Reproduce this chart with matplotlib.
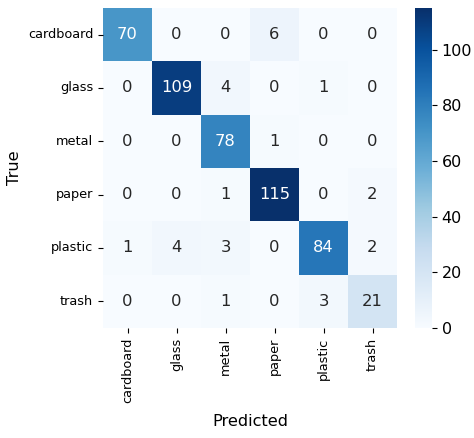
import numpy as np
import matplotlib.pyplot as plt
import seaborn as sns

classes = ["cardboard", "glass", "metal", "paper", "plastic", "trash"]
cm = np.array([
    [70, 0, 0, 6, 0, 0],
    [0, 109, 4, 0, 1, 0],
    [0, 0, 78, 1, 0, 0],
    [0, 0, 1, 115, 0, 2],
    [1, 4, 3, 0, 84, 2],
    [0, 0, 1, 0, 3, 21],
])

fig = plt.figure(figsize=(4.74, 4.38), dpi=100)
ax = fig.add_axes([103 / 474, 1 - 328 / 438, 294 / 474, 320 / 438])
cax = fig.add_axes([415 / 474, 1 - 328 / 438, 17 / 474, 320 / 438])

sns.heatmap(cm, annot=True, fmt="d", cmap="Blues", ax=ax, cbar_ax=cax,
            xticklabels=classes, yticklabels=classes, annot_kws={"fontsize": 11.8})
ax.set_xlabel("Predicted", fontsize=11.6, labelpad=8)
ax.set_ylabel("True", fontsize=11.6, labelpad=4)
ax.tick_params(axis="both", labelsize=9.3)
plt.setp(ax.get_xticklabels(), rotation=90)
plt.setp(ax.get_yticklabels(), rotation=0)
cax.tick_params(labelsize=11.5)

fig.savefig("out.png", dpi=100)
